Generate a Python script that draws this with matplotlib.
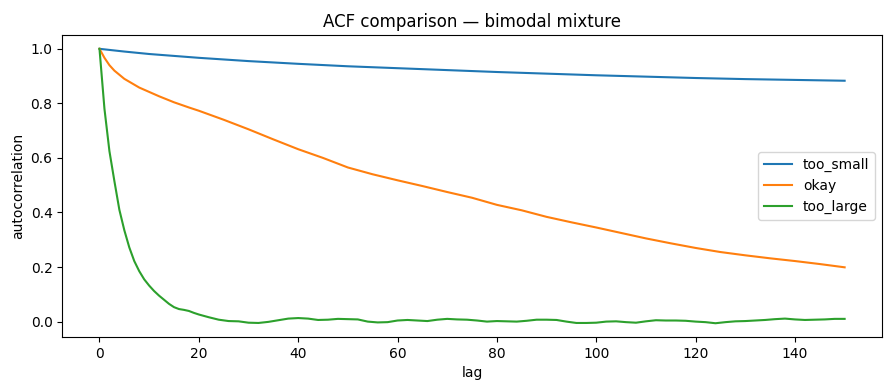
import numpy as np
import matplotlib
matplotlib.use("Agg")
import matplotlib.pyplot as plt

# values
lags_small = [0, 5, 10, 20, 30, 40, 50, 60, 70, 80, 90, 100, 110, 120, 130, 140, 150]
acf_small = [1.0, 0.990, 0.981, 0.967, 0.955, 0.945, 0.936, 0.929, 0.922, 0.915,
             0.909, 0.903, 0.898, 0.893, 0.889, 0.886, 0.883]

lags_okay = [0, 1, 2, 3, 5, 8, 12, 15, 18, 20, 25, 30, 35, 40, 45, 50, 55, 60, 65, 70,
             75, 80, 85, 90, 95, 100, 105, 110, 115, 120, 125, 130, 135, 140, 145, 150]
acf_okay = [1.0, 0.967, 0.94, 0.92, 0.89, 0.858, 0.826, 0.804, 0.785, 0.773, 0.74, 0.705,
            0.668, 0.632, 0.60, 0.565, 0.54, 0.518, 0.497, 0.475, 0.454, 0.428, 0.408,
            0.384, 0.364, 0.345, 0.325, 0.305, 0.287, 0.27, 0.255, 0.243, 0.232, 0.222,
            0.211, 0.199]

lags_large = [0, 1, 2, 3, 4, 5, 6, 7, 8, 9, 10, 11, 12, 13, 14, 15, 16, 17, 18, 19, 20,
              22, 24, 26, 28, 30, 32, 34, 36, 38, 40, 42, 44, 46, 48, 50, 52, 54, 56, 58,
              60, 62, 64, 66, 68, 70, 72, 74, 76, 78, 80, 82, 84, 86, 88, 90, 92, 94, 96,
              98, 100, 102, 104, 106, 108, 110, 112, 114, 116, 118, 120, 122, 124, 126,
              128, 130, 132, 134, 136, 138, 140, 142, 144, 146, 148, 150]
acf_large = [1.0, 0.78, 0.625, 0.515, 0.41, 0.335, 0.272, 0.222, 0.185, 0.155, 0.132,
             0.112, 0.095, 0.08, 0.065, 0.053, 0.046, 0.043, 0.039, 0.032, 0.026,
             0.016, 0.007, 0.002, 0.001, -0.004, -0.005, -0.001, 0.005, 0.011, 0.013,
             0.011, 0.006, 0.007, 0.01, 0.009, 0.008, 0.0, -0.003, -0.002,
             0.004, 0.006, 0.004, 0.002, 0.007, 0.01, 0.008, 0.007, 0.004, 0.0,
             0.002, 0.001, 0.0, 0.003, 0.007, 0.007, 0.006, 0.0, -0.005,
             -0.005, -0.004, 0.0, 0.001, -0.002, -0.004, 0.001, 0.005, 0.004, 0.004, 0.003,
             0.0, -0.002, -0.006, -0.002, 0.001, 0.002, 0.004, 0.006, 0.009, 0.011,
             0.008, 0.006, 0.007, 0.008, 0.01, 0.01]

fig, ax = plt.subplots(figsize=(8.89, 3.9), dpi=100)
ax.plot(lags_small, acf_small, label="too_small")
ax.plot(lags_okay, acf_okay, label="okay")
ax.plot(lags_large, acf_large, label="too_large")
ax.set_title("ACF comparison — bimodal mixture")
ax.set_xlabel("lag")
ax.set_ylabel("autocorrelation")
ax.legend(loc="center right")
fig.subplots_adjust(left=0.07, right=0.992, top=0.91, bottom=0.136)
fig.savefig("out.png")
